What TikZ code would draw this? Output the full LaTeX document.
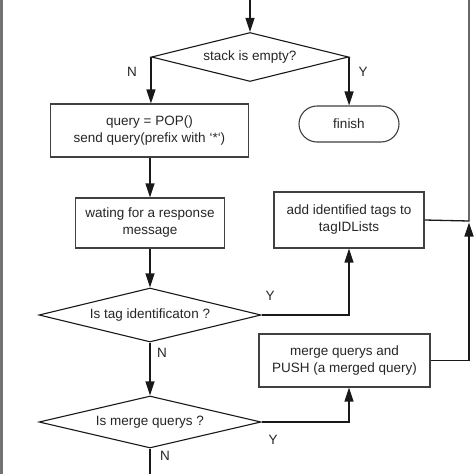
\documentclass[tikz,border=0pt]{standalone}
\usepackage{fontspec}
\setmainfont{Liberation Sans}
\usetikzlibrary{shapes.geometric,shapes.misc,arrows.meta,calc}
\begin{document}
\begin{tikzpicture}[x=1pt,y=-1pt,
  font=\fontsize{13.5}{17}\selectfont,
  every node/.style={text=black!85},
  boxnode/.style={draw=black!75, line width=1.1pt, rectangle, align=center, inner sep=0pt},
  decide/.style={draw=black!90, line width=1.1pt, diamond, aspect=4, inner sep=0pt},
  term/.style={draw=black!75, line width=1.1pt, rounded rectangle, inner sep=0pt},
  conn/.style={draw=black!90, line width=1.3pt},
  arr/.style={conn, -{Triangle[length=14pt,width=9pt]}},
  lbl/.style={inner sep=0pt}]
\useasboundingbox (0,0) rectangle (474,474);
\fill[white] (0,0) rectangle (474,474);
\draw[black!55, line width=2.5pt] (1.5,0) -- (1.5,474);

\node[decide, minimum width=197pt, minimum height=49pt] (d1) at (250,57) {stack is empty?};
\node[boxnode, minimum width=198pt, minimum height=53pt] (q) at (149.5,130.5) {query = POP()\\send query(prefix with `*`)};
\node[term, minimum width=100pt, minimum height=36pt] (fin) at (349,124) {finish};
\node[boxnode, minimum width=149pt, minimum height=50pt] (w) at (150,223) {wating for a response\\message};
\node[boxnode, minimum width=150pt, minimum height=56pt] (tags) at (349,220) {add identified tags to\\tagIDLists};
\node[decide, minimum width=222pt, minimum height=54pt] (d2) at (150,315) {Is tag identificaton ?};
\node[boxnode, minimum width=171pt, minimum height=53pt] (merge) at (344.5,360.5) {merge querys and\\PUSH (a merged query)};
\node[decide, minimum width=222pt, minimum height=52pt] (d3) at (150,422) {Is merge querys ?};

\coordinate (top) at (250,-5);
\coordinate (bot) at (150,480);
\coordinate (rj) at (469,221);
\coordinate (rtop) at (469,-5);

\draw[arr] (top) -- (d1.north);
\draw[arr] (d1.west) -- (d1.west |- q.north);
\draw[arr] (d1.east) -- (d1.east |- fin.north);
\draw[arr] (q.south -| w.north) -- (w.north);
\draw[arr] (w.south) -- (d2.north);
\draw[arr] (d2.south) -- (d3.north);
\draw[conn] (d3.south) -- (bot);
\draw[arr] (d2.east) -| (tags.south);
\draw[arr] (d3.east) -| (tags.south |- merge.south);
\draw[arr] (merge.east) -| ($(rj)+(0,1.5)$);
\draw[conn] (tags.east) -- (rj) -- (rtop);

\node[lbl] (n1) at (132,72) {N};
\node[lbl] (y1) at (363,72) {Y};
\node[lbl] (y2) at (270,296) {Y};
\node[lbl] (n2) at (162,353) {N};
\node[lbl] (y3) at (273,440) {Y};
\node[lbl] (n3) at (165,456) {N};
\end{tikzpicture}
\end{document}
